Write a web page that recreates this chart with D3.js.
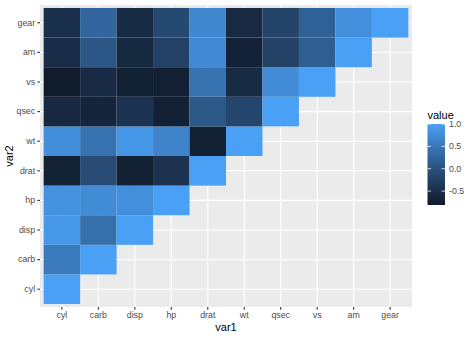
<!DOCTYPE html>
<html><head><meta charset="utf-8">
<script src="https://cdn.jsdelivr.net/npm/d3@7"></script>
<style>body{margin:0;background:#fff;} text{font-family:"Liberation Sans",Arial,sans-serif;}</style>
</head><body><svg id="c" width="474" height="338"></svg>
<script>
const vars = ["cyl","carb","disp","hp","drat","wt","qsec","vs","am","gear"];
// correlations, one array per x column (rows from that var upward to gear)
const colCyl  = [1, 0.527, 0.902, 0.832, -0.700, 0.782, -0.591, -0.811, -0.523, -0.493];
const colCarb = [1, 0.395, 0.750, -0.091, 0.428, -0.656, -0.570, 0.058, 0.274];
const colDisp = [1, 0.791, -0.710, 0.888, -0.434, -0.710, -0.591, -0.556];
const colHp   = [1, -0.449, 0.659, -0.708, -0.723, -0.243, -0.126];
const colDrat = [1, -0.712, 0.091, 0.440, 0.713, 0.700];
const colWt   = [1, -0.175, -0.555, -0.692, -0.583];
const colQsec = [1, 0.745, -0.230, -0.213];
const colVs   = [1, 0.168, 0.206];
const colAm   = [1, 0.794];
const colGear = [1];
const legendTicks = [-0.5, 0.0, 0.5, 1.0];
const legendLabels = ["-0.5", "0.0", "0.5", "1.0"];

const columns = [colCyl,colCarb,colDisp,colHp,colDrat,colWt,colQsec,colVs,colAm,colGear];
const cells = [];
columns.forEach((col, i) => col.forEach((v, k) => cells.push({x: vars[i], y: vars[i + k], value: v})));

const svg = d3.select("#c");
const P = {l: 40, r: 412, t: 5, b: 307};

const x = d3.scaleBand().domain(vars).range([P.l, P.r]).paddingInner(0).paddingOuter(0.1);
const y = d3.scaleBand().domain(vars).range([P.b, P.t]).paddingInner(0).paddingOuter(0.1);

const vmin = d3.min(cells, d => d.value), vmax = d3.max(cells, d => d.value);
const color = d3.scaleLinear().domain([vmin, vmax]).range(["#101b2c", "#4aa0f5"]).interpolate(d3.interpolateLab);

svg.append("rect").attr("x", P.l).attr("y", P.t).attr("width", P.r - P.l).attr("height", P.b - P.t).attr("fill", "#EBEBEB");
const g = svg.append("g");
vars.forEach(v => {
  g.append("line").attr("x1", x(v) + x.bandwidth()/2).attr("x2", x(v) + x.bandwidth()/2)
    .attr("y1", P.t).attr("y2", P.b).attr("stroke", "#fff").attr("stroke-width", 1.1);
  g.append("line").attr("y1", y(v) + y.bandwidth()/2).attr("y2", y(v) + y.bandwidth()/2)
    .attr("x1", P.l).attr("x2", P.r).attr("stroke", "#fff").attr("stroke-width", 1.1);
});

svg.append("g").selectAll("rect").data(cells).join("rect")
  .attr("x", d => x(d.x)).attr("y", d => y(d.y))
  .attr("width", x.bandwidth()).attr("height", y.bandwidth())
  .attr("fill", d => color(d.value));

const xAxis = svg.append("g").attr("transform", `translate(0,${P.b})`)
  .call(d3.axisBottom(x).tickSize(2.7).tickPadding(2.2));
const yAxis = svg.append("g").attr("transform", `translate(${P.l},0)`)
  .call(d3.axisLeft(y).tickSize(2.7).tickPadding(2.2));
[xAxis, yAxis].forEach(a => {
  a.select(".domain").remove();
  a.selectAll(".tick line").attr("stroke", "#333333").attr("stroke-width", 1.1);
  a.selectAll(".tick text").attr("fill", "#4D4D4D").style("font-size", "8.8px").style("font-family", "Liberation Sans, Arial, sans-serif");
});

svg.append("text").attr("x", (P.l + P.r)/2).attr("y", 331).attr("text-anchor", "middle")
  .style("font-size", "11px").attr("fill", "#000").text("var1");
svg.append("text").attr("transform", `translate(13,${(P.t + P.b)/2}) rotate(-90)`).attr("text-anchor", "middle")
  .style("font-size", "11px").attr("fill", "#000").text("var2");

// legend
const L = {x: 427.5, w: 17.5, top: 124, bot: 205};
const ly = d3.scaleLinear().domain([vmin, vmax]).range([L.bot, L.top]);
const defs = svg.append("defs");
const grad = defs.append("linearGradient").attr("id", "lg").attr("x1", 0).attr("x2", 0).attr("y1", 1).attr("y2", 0);
d3.range(0, 1.0001, 0.05).forEach(t => grad.append("stop").attr("offset", t).attr("stop-color", color(vmin + t * (vmax - vmin))));
svg.append("text").attr("x", L.x).attr("y", 119).style("font-size", "11px").attr("fill", "#000").text("value");
svg.append("rect").attr("x", L.x).attr("y", L.top).attr("width", L.w).attr("height", L.bot - L.top).attr("fill", "url(#lg)");
const lt = svg.append("g").selectAll("g").data(legendTicks).join("g");
lt.append("line").attr("x1", L.x).attr("x2", L.x + L.w/5).attr("y1", d => ly(d)).attr("y2", d => ly(d)).attr("stroke", "#fff").attr("stroke-width", 0.8);
lt.append("line").attr("x1", L.x + L.w*4/5).attr("x2", L.x + L.w).attr("y1", d => ly(d)).attr("y2", d => ly(d)).attr("stroke", "#fff").attr("stroke-width", 0.8);
lt.append("text").attr("x", L.x + L.w + 4).attr("y", d => ly(d)).attr("dy", "0.35em")
  .style("font-size", "8.8px").attr("fill", "#4D4D4D").text((d, i) => legendLabels[i]);
</script></body></html>
